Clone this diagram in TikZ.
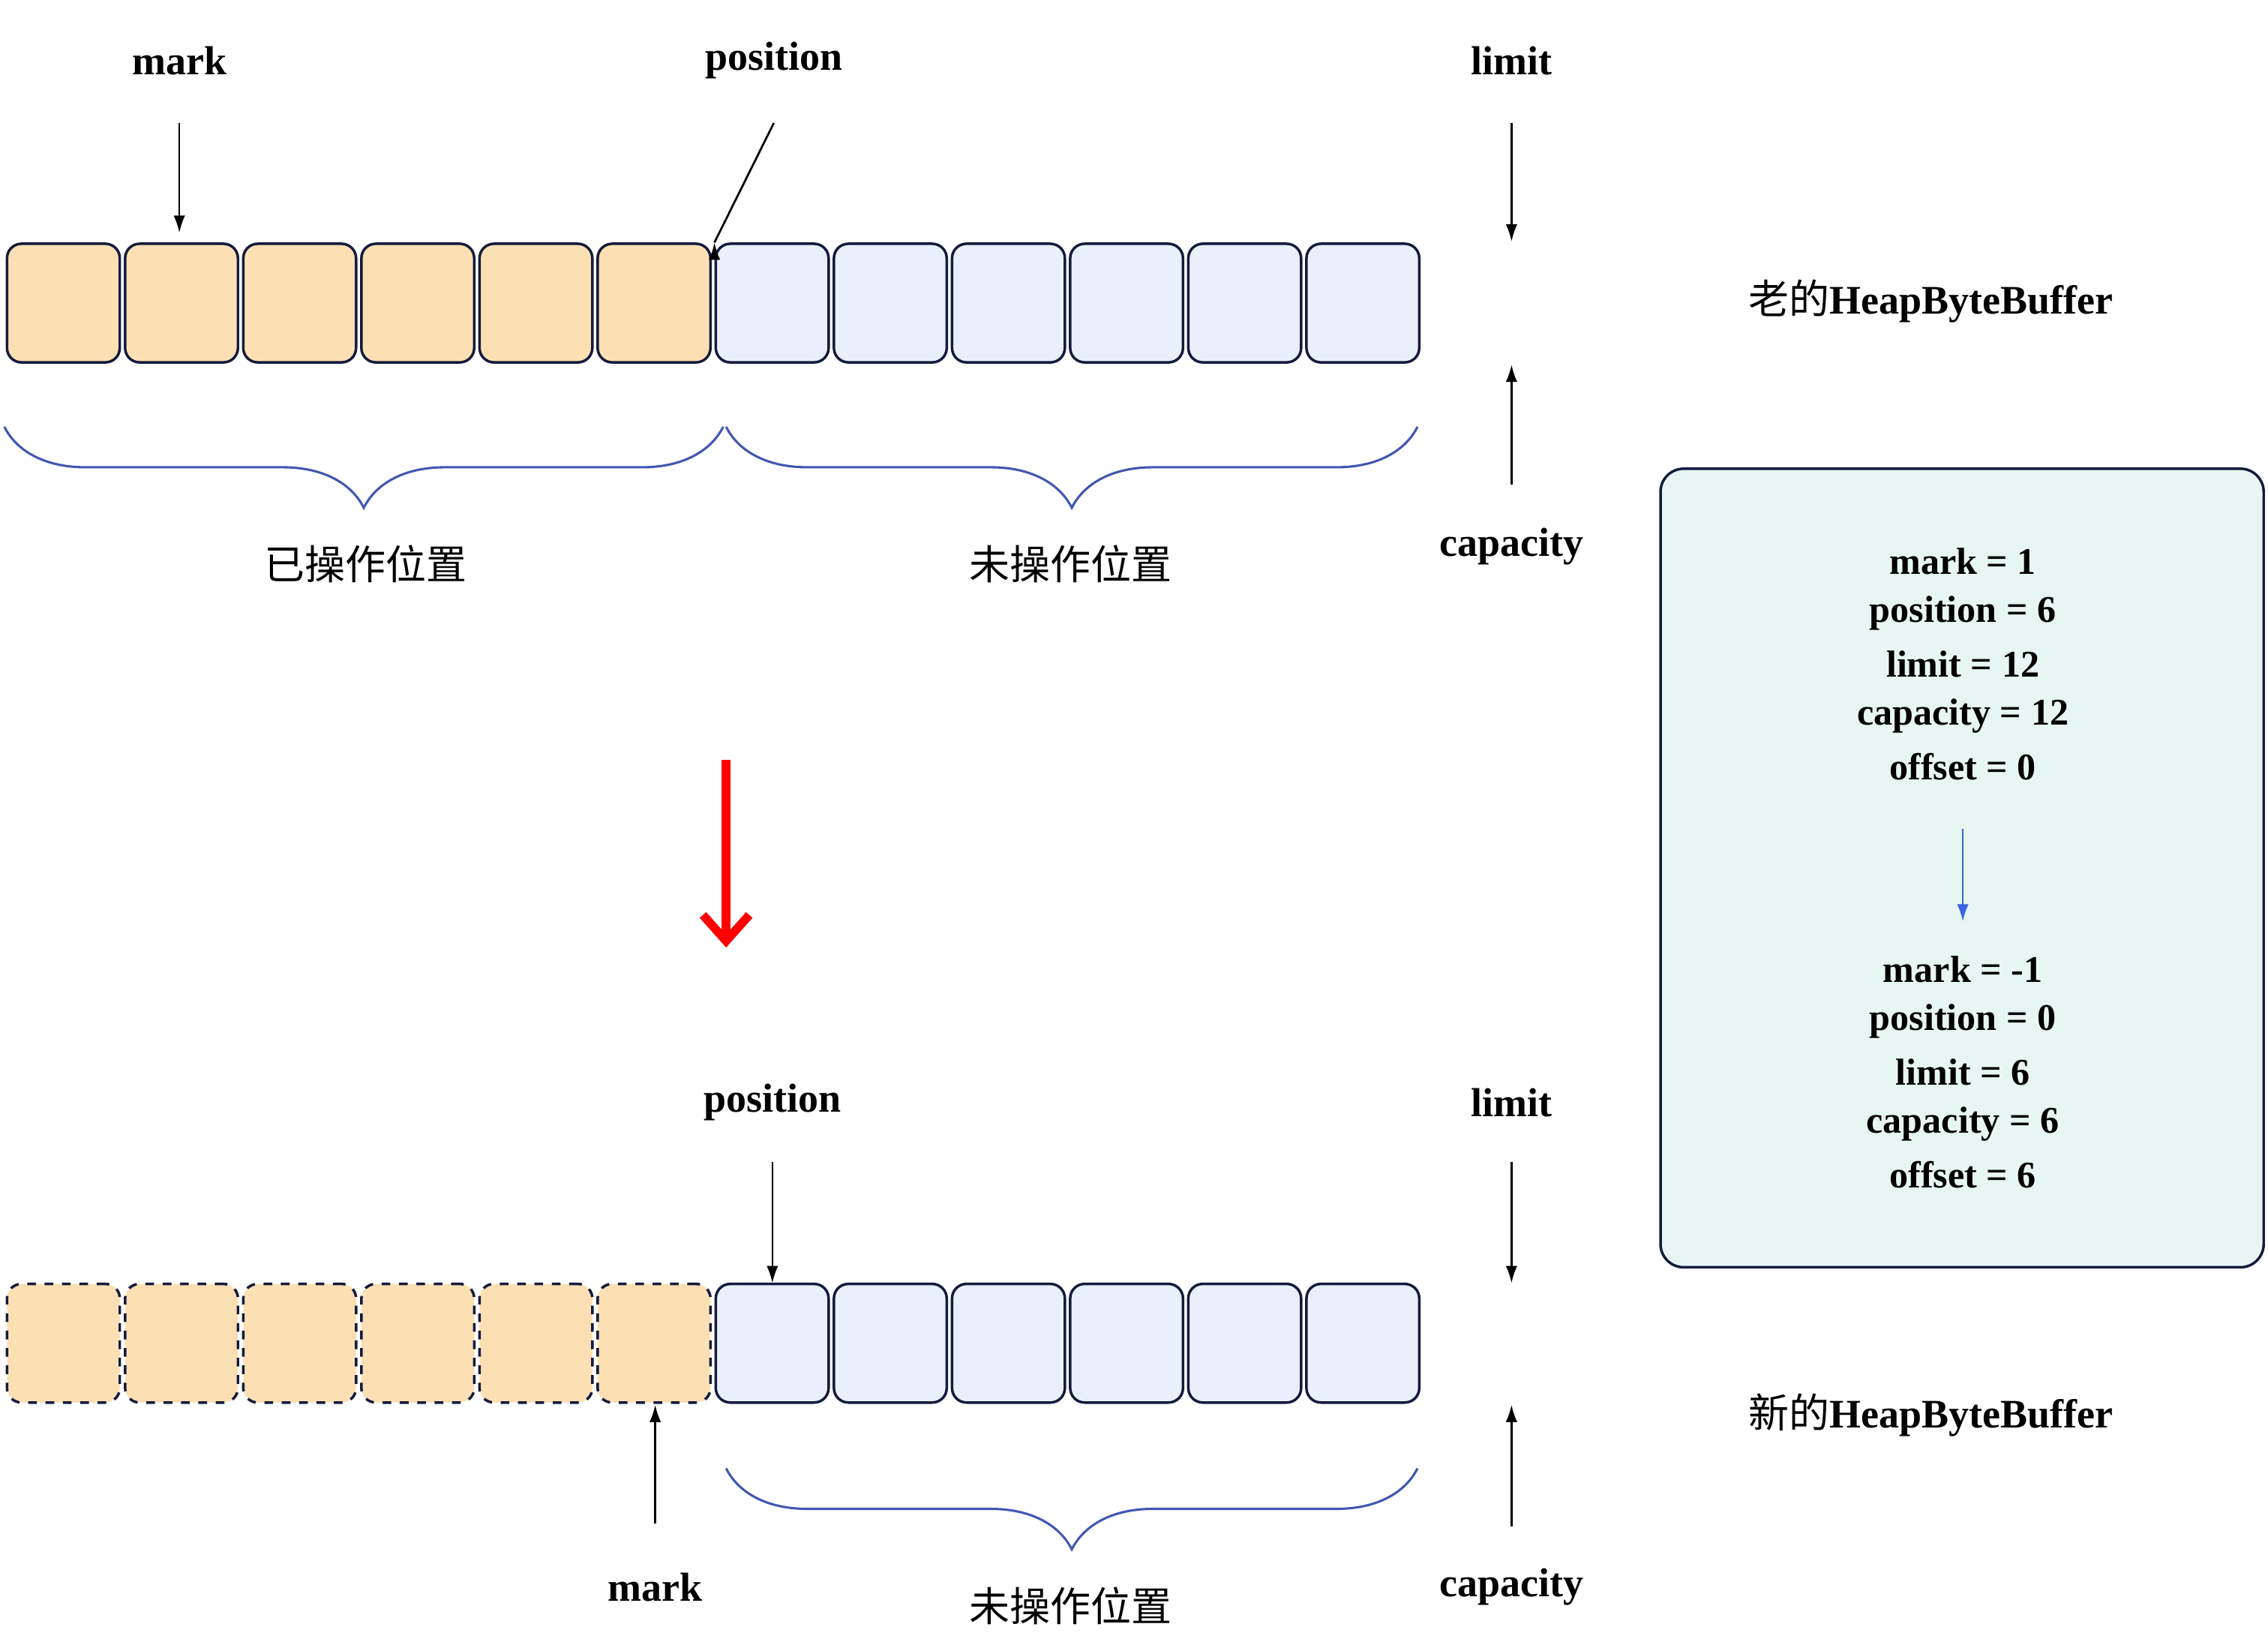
\documentclass[tikz,border=0pt]{standalone}
\usepackage{fontspec}
\setmainfont{Liberation Serif}
\newfontfamily\cjk{Noto Sans CJK SC}
\usetikzlibrary{decorations.pathreplacing,arrows.meta}
\definecolor{done}{HTML}{FCE0B4}
\definecolor{todo}{HTML}{EAF0FB}
\definecolor{rahmen}{HTML}{141B3D}
\definecolor{klammer}{HTML}{4257B2}
\definecolor{kasten}{HTML}{E7F6F2}
\begin{document}
\begin{tikzpicture}[x=0.5pt,y=-0.5pt,
		zelle/.style={draw=rahmen,line width=0.9pt,rounded corners=5pt,minimum width=39pt,minimum height=41pt,inner sep=0pt,fill=#1},
		zelle/.default=todo,
		lbl/.style={font=\bfseries\fontsize{14}{16}\selectfont},
		zh/.style={font=\cjk\fontsize{14}{16}\selectfont},
		pfeil/.style={-{Latex[length=6pt,width=4pt]},line width=0.7pt},
		klam/.style={draw=klammer,line width=0.8pt,decorate,decoration={brace,amplitude=28pt,aspect=0.5}}]
		
		\useasboundingbox (0,0) rectangle (1568,1139);
		
		%alter puffer
		\foreach \i in {1,...,12}{
			\ifnum\i<7 \def\farbe{done}\else\def\farbe{todo}\fi
			\node[zelle=\farbe] (a\i) at ({3+81.67*(\i-0.5)},209.5) {};
		}
		\node[lbl] (amark) at (124,42) {mark};
		\node[lbl] (apos) at (535,42) {position};
		\node[lbl] (alim) at (1045,42) {limit};
		\node[lbl] (acap) at (1045,378) {capacity};
		\coordinate (am) at (124,85);
		\coordinate (ap) at (535,85);
		\coordinate (al) at (1045,85);
		\coordinate (al2) at (1045,167);
		\coordinate (ac) at (1045,335);
		\coordinate (ac2) at (1045,252);
		\draw[pfeil] (am) -- ++(0,76);
		\draw[pfeil] (ap) -- (a7.north west) ++(0,0);
		\draw[pfeil] (al) -- (al2);
		\draw[pfeil] (ac) -- (ac2);
		\draw[klam] (500,295) -- (3,295);
		\draw[klam] (980,295) -- (502,295);
		\node[zh] (aalt) at (253,390) {已操作位置};
		\node[zh] (aneu) at (740,390) {未操作位置};
		\node[font=\fontsize{14}{16}\selectfont] (atitel) at (1335,208) {{\cjk 老的}\textbf{HeapByteBuffer}};
		
		%uebergang
		\coordinate (r1) at (502,525);
		\coordinate (r2) at (502,655);
		\draw[red,line width=3pt,-{Straight Barb[length=9pt,width=16pt]}] (r1) -- (r2);
		
		%kasten
		\node[draw=rahmen,fill=kasten,line width=0.9pt,rounded corners=8pt,minimum width=208.5pt,minimum height=276pt] (box) at (1356.5,600) {};
		\foreach \y/\t in {388/mark = 1,424/position = 6,459/limit = 12,495/capacity = 12,530/offset = 0,
			670/mark = -1,706/position = 0,741/limit = 6,777/capacity = 6,812/offset = 6}
		\node[font=\bfseries\fontsize{13}{15}\selectfont] at (1357,\y) {\t};
		\coordinate (b1) at (1357,573);
		\coordinate (b2) at (1357,637);
		\draw[pfeil,draw={rgb,255:red,60;green,100;blue,220}] (b1) -- (b2);
		
		%neuer puffer
		\foreach \i in {1,...,12}{
			\ifnum\i<7
			\node[zelle=done,dashed] (n\i) at ({3+81.67*(\i-0.5)},928.5) {};
			\else
			\node[zelle] (n\i) at ({3+81.67*(\i-0.5)},928.5) {};
			\fi
		}
		\node[lbl] (npos) at (534,762) {position};
		\node[lbl] (nlim) at (1045,762) {limit};
		\node[lbl] (nmark) at (453,1097) {mark};
		\node[lbl] (ncap) at (1045,1097) {capacity};
		\coordinate (np) at (534,803);
		\coordinate (nl) at (1045,803);
		\coordinate (nl2) at (1045,887);
		\coordinate (nm) at (453,1053);
		\coordinate (nm2) at (453,971);
		\coordinate (nc) at (1045,1055);
		\coordinate (nc2) at (1045,971);
		\draw[pfeil] (np) -- (534,887);
		\draw[pfeil] (nl) -- (nl2);
		\draw[pfeil] (nm) -- (nm2);
		\draw[pfeil] (nc) -- (nc2);
		\draw[klam] (980,1015) -- (502,1015);
		\node[zh] (nneu) at (740,1110) {未操作位置};
		\node[font=\fontsize{14}{16}\selectfont] (ntitel) at (1335,978) {{\cjk 新的}\textbf{HeapByteBuffer}};
		
\end{tikzpicture}
\end{document}
